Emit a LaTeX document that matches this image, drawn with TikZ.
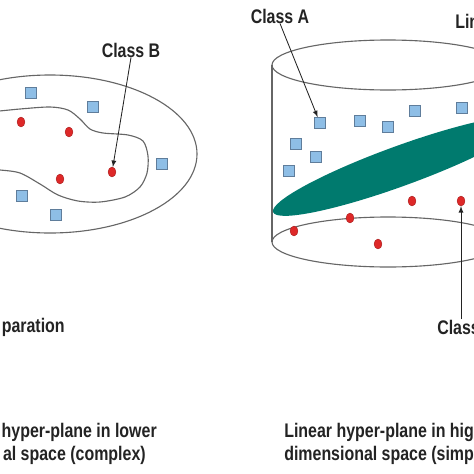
\documentclass[tikz,border=0pt]{standalone}
\usepackage{fontspec}
\setmainfont[FakeStretch=0.81]{Liberation Sans}
\usetikzlibrary{shapes.geometric}
\definecolor{sqblue}{RGB}{142,190,230}
\definecolor{sqedge}{RGB}{95,125,155}
\definecolor{dotred}{RGB}{222,40,40}
\definecolor{planegreen}{RGB}{0,122,110}
\definecolor{inkgray}{RGB}{35,35,35}
\tikzset{
  sq/.style={draw=sqedge, fill=sqblue, line width=0.5pt, minimum size=7.8pt, inner sep=0pt},
  dot/.style={ellipse, draw=dotred!75!black, fill=dotred, line width=0.3pt, minimum width=5.6pt, minimum height=7pt, inner sep=0pt},
  lbl/.style={font=\bfseries\fontsize{14}{16}\selectfont, text=inkgray, inner sep=0pt},
  boundary/.style={draw=black!60, line width=0.8pt},
  pointer/.style={-latex, draw=inkgray, line width=0.6pt},
}
\begin{document}
\begin{tikzpicture}[x=0.025cm,y=-0.025cm]
\useasboundingbox (0,0) rectangle (474,474);
\clip (0,0) rectangle (474,474);

\draw[boundary] (50,154) ellipse [x radius=147, y radius=79];
\draw[boundary] plot[smooth] coordinates {(-10,112) (20,109) (50,107) (68,110) (80,119) (90,129) (103,133) (128,135) (143,141) (148,156) (147,173) (140,187) (125,197) (100,202) (78,201) (58,195) (40,184) (20,173) (0,170) (-10,170)};

\node[sq] (s1) at (31,93) {};
\node[sq] (s2) at (93,107) {};
\node[sq] (s3) at (162,164) {};
\node[sq] (s4) at (22,196) {};
\node[sq] (s5) at (56,215) {};
\node[dot] (d1) at (21,122) {};
\node[dot] (d2) at (69,132) {};
\node[dot] (d3) at (60,179) {};
\node[dot] (d4) at (112,172) {};

\node[lbl, anchor=base] (clsB) at (131,57) {Class B};
\draw[pointer] (clsB.south) -- (d4);

\node[lbl, anchor=base east] (sep) at (65,332) {paration};
\node[lbl, anchor=base east] (low1) at (157,437) {hyper-plane in lower};
\node[lbl, anchor=base east] (low2) at (146,460) {al space (complex)};

\draw[boundary] (388,65) ellipse [x radius=116, y radius=25];
\draw[boundary] (388,242) ellipse [x radius=116, y radius=25];
\draw[boundary] (272,65) -- (272,242);
\fill[planegreen, shift={(400,166)}, rotate=20] (0,0) ellipse [x radius=135, y radius=20];

\node[sq] (a1) at (320,123) {};
\node[sq] (a2) at (360,121) {};
\node[sq] (a3) at (388,127) {};
\node[sq] (a4) at (415,111) {};
\node[sq] (a5) at (462,108) {};
\node[sq] (a6) at (296,144) {};
\node[sq] (a7) at (316,157) {};
\node[sq] (a8) at (289,171) {};
\node[dot] (r1) at (412,201) {};
\node[dot] (r2) at (461,201) {};
\node[dot] (r3) at (350,218) {};
\node[dot] (r4) at (294,231) {};
\node[dot] (r5) at (378,244) {};

\node[lbl, anchor=base] (clsA) at (280,23) {Class A};
\draw[pointer] (clsA.south) -- (a1);
\node[lbl, anchor=base west] (lin) at (455,28) {Lin};
\node[lbl, anchor=base west] (clsBr) at (437,334) {Class};
\draw[pointer] (clsBr.north -| r2) -- (r2);

\node[lbl, anchor=base west] (high1) at (284,437) {Linear hyper-plane in hig};
\node[lbl, anchor=base west] (high2) at (284,460) {dimensional space (simp};
\end{tikzpicture}
\end{document}
